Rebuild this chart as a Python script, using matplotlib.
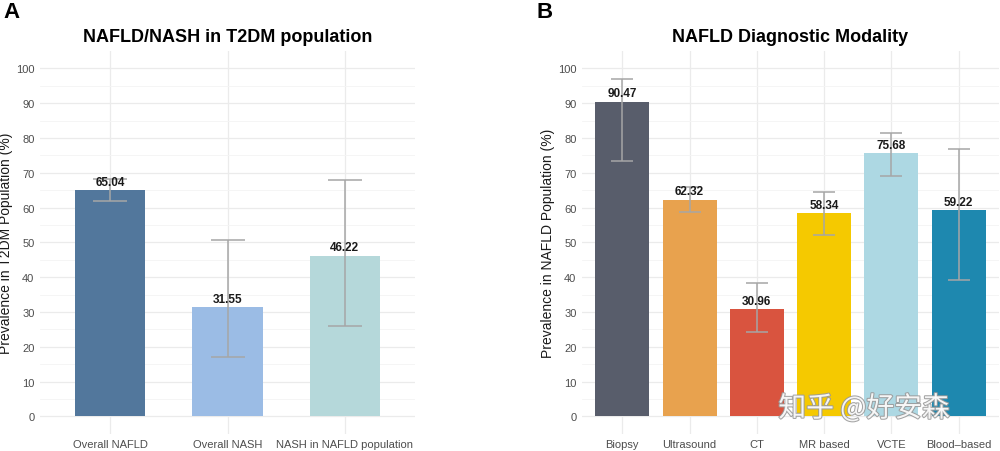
import numpy as np
import matplotlib
matplotlib.use("Agg")
import matplotlib.pyplot as plt
import matplotlib.patheffects as pe

plt.rcParams['font.family'] = ['Liberation Sans', 'DejaVu Sans']

# Panel A data
a_labels = ["Overall NAFLD", "Overall NASH", "NASH in NAFLD population"]
a_values = [65.04, 31.55, 46.22]
a_lower = [61.8, 17.2, 25.9]
a_upper = [68.2, 50.7, 67.9]
a_colors = ["#52779C", "#9BBCE5", "#B5D8DA"]

# Panel B data
b_labels = ["Biopsy", "Ultrasound", "CT", "MR based", "VCTE", "Blood\u2013based"]
b_values = [90.47, 62.32, 30.96, 58.34, 75.68, 59.22]
b_lower = [73.4, 58.8, 24.3, 52.0, 69.2, 39.2]
b_upper = [97.0, 65.9, 38.4, 64.5, 81.3, 76.7]
b_colors = ["#585D6B", "#E8A24E", "#D9543F", "#F5C900", "#ADD8E3", "#1E88AF"]

fig = plt.figure(figsize=(10, 4.52), dpi=100)
axA = fig.add_axes([0.040, 0.038, 0.375, 0.847])
axB = fig.add_axes([0.582, 0.038, 0.417, 0.847])


def draw_panel(ax, labels, values, lower, upper, colors, width, capsize, title, ylabel):
    x = np.arange(1, len(values) + 1)
    ax.bar(x, values, width=width, color=colors, zorder=2)
    err = [np.array(values) - np.array(lower), np.array(upper) - np.array(values)]
    ax.errorbar(x, values, yerr=err, fmt='none', ecolor='#A6A6A6', elinewidth=1.1,
                capsize=capsize, capthick=1.1, zorder=3)
    for xi, v in zip(x, values):
        ax.text(xi, v + 0.6, f"{v:.2f}", ha='center', va='bottom', fontsize=8.5,
                fontweight='bold', color='#1A1A1A', zorder=4)
    ax.set_xlim(0.4, len(values) + 0.6)
    ax.set_ylim(-5, 105)
    ax.set_yticks(np.arange(0, 101, 10))
    ax.set_yticks(np.arange(5, 101, 10), minor=True)
    ax.set_xticks(x)
    ax.set_xticklabels(labels)
    ax.grid(which='major', color='#EBEBEB', linewidth=0.9, zorder=0)
    ax.grid(which='minor', axis='y', color='#F4F4F4', linewidth=0.6, zorder=0)
    ax.set_axisbelow(True)
    for s in ax.spines.values():
        s.set_visible(False)
    ax.tick_params(which='both', length=0, labelsize=8, labelcolor='#4D4D4D', pad=4)
    ax.set_title(title, fontsize=13, fontweight='bold', pad=7)
    ax.set_ylabel(ylabel, fontsize=10, color='#1A1A1A', labelpad=2)


draw_panel(axA, a_labels, a_values, a_lower, a_upper, a_colors, 0.6, 12,
           "NAFLD/NASH in T2DM population", "Prevalence in T2DM Population (%)")
draw_panel(axB, b_labels, b_values, b_lower, b_upper, b_colors, 0.8, 8,
           "NAFLD Diagnostic Modality", "Prevalence in NAFLD Population (%)")

fig.text(0.003, 0.973, "A", fontsize=16, fontweight='bold', va='center', ha='left')
fig.text(0.537, 0.973, "B", fontsize=16, fontweight='bold', va='center', ha='left')

# watermark
fig.text(0.864, 0.094, "知乎 @好安森", fontsize=20, color='white', alpha=0.9,
         ha='center', va='center', family=['Noto Sans CJK SC', 'DejaVu Sans'],
         path_effects=[pe.withStroke(linewidth=1.5, foreground='#9A9A9A')], zorder=10)

fig.savefig("out.png", dpi=100)
